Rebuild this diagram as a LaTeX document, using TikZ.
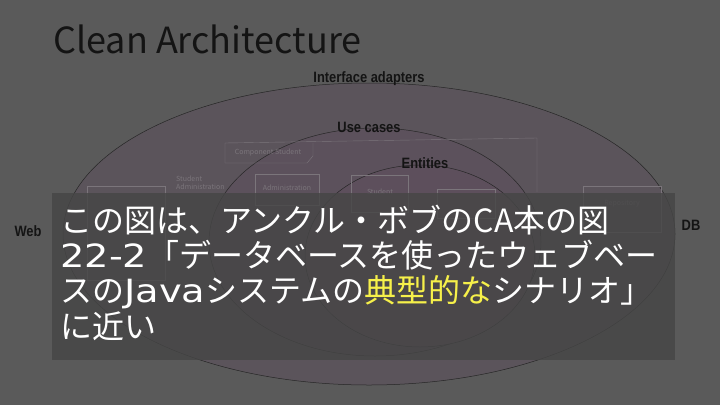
\documentclass[tikz,border=0pt]{standalone}
\usepackage{fontspec}
\setmainfont{Noto Sans CJK JP}
\newfontfamily\jpfont{Noto Sans CJK JP}
\newfontfamily\latinfont[FakeStretch=1.2]{DejaVu Sans}
\newfontfamily\labelfont[FakeStretch=0.86]{Liberation Sans}

\definecolor{slidebg}{HTML}{5A5A5A}
\definecolor{outerfill}{HTML}{5B545B}
\definecolor{usefill}{HTML}{5C515C}
\definecolor{entfill}{HTML}{5D4F5C}
\definecolor{faint}{HTML}{7B757B}
\definecolor{panel}{HTML}{464646}
\definecolor{hilite}{HTML}{F6F04A}

\tikzset{
  ring/.style={draw=black!85, line width=0.5pt},
  ringlabel/.style={font=\labelfont\bfseries\fontsize{15}{15}\selectfont, text=black!92, inner sep=0pt},
  umlbox/.style={draw=faint, line width=0.4pt},
  umltext/.style={font=\fontsize{7}{8}\selectfont, text=faint, inner sep=0pt, align=left},
  captionline/.style={anchor=base west, inner sep=0pt, text=white, font=\jpfont\fontsize{32}{36}\selectfont},
}

\begin{document}
\begin{tikzpicture}[x=1pt,y=-1pt]
        \fill[slidebg] (0,0) rectangle (720,405);
        \useasboundingbox (0,0) rectangle (720,405);

        \node[anchor=base west, inner sep=0pt, text=black!92, font=\fontsize{36}{36}\selectfont] (title) at (53,53) {Clean Architecture};

        % the three rings
        \draw[ring, fill=outerfill] (369,234) ellipse [x radius=306, y radius=151];
        \draw[ring, fill=usefill] (375,242) ellipse [x radius=166, y radius=114];
        \draw[ring, fill=entfill] (420,256) ellipse [x radius=115, y radius=91];

        % faint diagram behind the rings
        \draw[umlbox] (225,163) -- (225,143) -- (537,138) -- (537,192);
        \draw[umlbox] (225,163) -- (307,163) -- (313,156) -- (313,143);
        \node[umltext] (comp) at (268,153) {Component Student};
        \node[umltext, anchor=west] (admpkg) at (176,183) {Student\\Administration};
        \draw[umlbox] (255,174) rectangle (319,205);
        \node[umltext] (adm) at (287,188) {Administration};
        \draw[umlbox] (351,175) rectangle (408,212);
        \node[umltext] (stud) at (380,192) {Student};
        \draw[umlbox] (437,189) rectangle (495,218);
        \draw[umlbox] (87,186) rectangle (165,280);
        \draw[umlbox] (583,186) rectangle (661,232);
        \node[umltext] (repo) at (622,204) {Repository};

        % ring labels
        \node[ringlabel] (ifa) at (369,79) {Interface adapters};
        \node[ringlabel] (uc) at (369,127) {Use cases};
        \node[ringlabel] (ent) at (425,163) {Entities};
        \node[ringlabel] (web) at (28,231) {Web};
        \node[ringlabel] (db) at (691,225) {DB};

        % caption panel
        \fill[panel, fill opacity=0.82] (52,193) rectangle (675,360);
        \node[captionline] (line1) at (60,232) {この図は、アンクル・ボブのCA本の図};
        \node[captionline] (line2) at (60,267) {{\latinfont 22-2}「データベースを使ったウェブベー};
        \node[captionline] (line3) at (60,302) {スの{\latinfont Java}システムの\textcolor{hilite}{典型的な}シナリオ」};
        \node[captionline] (line4) at (60,338) {に近い};
\end{tikzpicture}
\end{document}
